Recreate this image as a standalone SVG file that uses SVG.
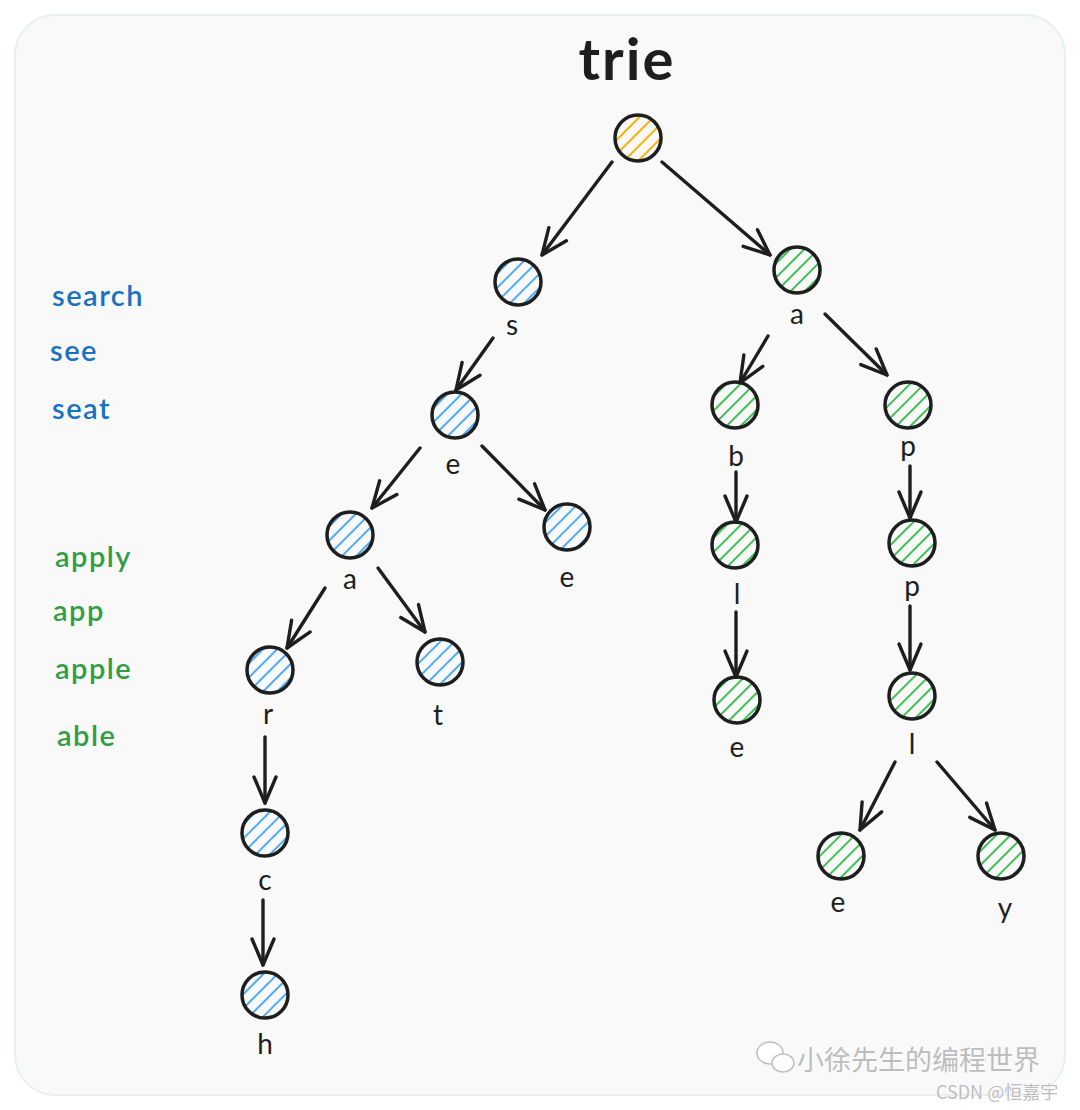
<svg xmlns="http://www.w3.org/2000/svg" width="1080" height="1110" viewBox="0 0 1080 1110">
<defs>
<style>
.node{stroke:#1e1e1e;stroke-width:3.5}
.lbl{font-family:"Lato","Noto Sans",sans-serif;font-size:28px;fill:#1e1e1e;text-anchor:middle}
.blue{font-family:"Lato","Noto Sans",sans-serif;font-size:29px;font-weight:600;letter-spacing:1.5px;fill:#1971c2}
.green{font-family:"Lato","Noto Sans",sans-serif;font-size:29px;font-weight:600;letter-spacing:1.5px;fill:#2f9e44}
.edge{stroke:#1e1e1e;stroke-width:3.4;fill:none;stroke-linecap:round;marker-end:url(#arr)}
.wm{font-family:"Noto Sans CJK SC","Liberation Sans",sans-serif;fill:#bdbdbd;stroke:#ffffff;stroke-width:0.6;paint-order:stroke}
</style>
<pattern id="hb" patternUnits="userSpaceOnUse" width="10" height="10" patternTransform="rotate(-45)"><line x1="0" y1="5" x2="10" y2="5" stroke="#4dabf7" stroke-width="2"/></pattern>
<pattern id="hg" patternUnits="userSpaceOnUse" width="10" height="10" patternTransform="rotate(-45)"><line x1="0" y1="5" x2="10" y2="5" stroke="#40c057" stroke-width="2"/></pattern>
<pattern id="hy" patternUnits="userSpaceOnUse" width="10" height="10" patternTransform="rotate(-45)"><line x1="0" y1="5" x2="10" y2="5" stroke="#fab005" stroke-width="2"/></pattern>
<marker id="arr" markerUnits="userSpaceOnUse" markerWidth="40" markerHeight="40" refX="0" refY="0" viewBox="-30 -20 40 40" orient="auto" overflow="visible">
<path d="M-26,-11 L0,0 L-26,11" fill="none" stroke="#1e1e1e" stroke-width="3.4" stroke-linecap="round" stroke-linejoin="round"/>
</marker>
</defs>
<rect x="0" y="0" width="1080" height="1110" fill="#ffffff"/>
<rect x="15" y="15" width="1050" height="1080" rx="40" fill="#f9f9f9" stroke="#e8f0ee" stroke-width="2"/>
<text x="627" y="80" font-family="Lato,'Noto Sans',sans-serif" font-size="58" font-weight="bold" letter-spacing="2" fill="#1e1e1e" text-anchor="middle">trie</text>

<g id="connectors">
<line class="edge" x1="612" y1="162" x2="542" y2="255"/>
<line class="edge" x1="662" y1="162" x2="770" y2="255"/>
<line class="edge" x1="493" y1="338" x2="456" y2="390"/>
<line class="edge" x1="768" y1="336" x2="740" y2="383"/>
<line class="edge" x1="825" y1="314" x2="887" y2="375"/>
<line class="edge" x1="420" y1="448" x2="372" y2="508"/>
<line class="edge" x1="482" y1="446" x2="545" y2="510"/>
<line class="edge" x1="736" y1="472" x2="736" y2="522"/>
<line class="edge" x1="910" y1="466" x2="910" y2="518"/>
<line class="edge" x1="325" y1="588" x2="287" y2="648"/>
<line class="edge" x1="378" y1="568" x2="425" y2="632"/>
<line class="edge" x1="736" y1="612" x2="736" y2="677"/>
<line class="edge" x1="910" y1="606" x2="910" y2="670"/>
<line class="edge" x1="895" y1="762" x2="860" y2="830"/>
<line class="edge" x1="937" y1="762" x2="995" y2="830"/>
<line class="edge" x1="265" y1="737" x2="265" y2="803"/>
<line class="edge" x1="263" y1="900" x2="263" y2="965"/>
</g>

<g id="root"><circle class="node" cx="638" cy="138" r="23" fill="url(#hy)"/></g>
<g id="n-s"><circle class="node" cx="518" cy="282" r="23" fill="url(#hb)"/><text class="lbl" x="512" y="335">s</text></g>
<g id="n-a"><circle class="node" cx="797" cy="270" r="23" fill="url(#hg)"/><text class="lbl" x="797" y="324">a</text></g>
<g id="n-se"><circle class="node" cx="455" cy="415" r="23" fill="url(#hb)"/><text class="lbl" x="453" y="474">e</text></g>
<g id="n-ab"><circle class="node" cx="735" cy="405" r="23" fill="url(#hg)"/><text class="lbl" x="736" y="466">b</text></g>
<g id="n-ap"><circle class="node" cx="908" cy="405" r="23" fill="url(#hg)"/><text class="lbl" x="908" y="456">p</text></g>
<g id="n-sea"><circle class="node" cx="350" cy="535" r="23" fill="url(#hb)"/><text class="lbl" x="350" y="589">a</text></g>
<g id="n-see"><circle class="node" cx="567" cy="527" r="23" fill="url(#hb)"/><text class="lbl" x="567" y="587">e</text></g>
<g id="n-abl"><circle class="node" cx="735" cy="545" r="23" fill="url(#hg)"/><text class="lbl" x="737" y="604">l</text></g>
<g id="n-app"><circle class="node" cx="912" cy="543" r="23" fill="url(#hg)"/><text class="lbl" x="912" y="596">p</text></g>
<g id="n-sear"><circle class="node" cx="270" cy="670" r="23" fill="url(#hb)"/><text class="lbl" x="268" y="724">r</text></g>
<g id="n-seat"><circle class="node" cx="440" cy="662" r="23" fill="url(#hb)"/><text class="lbl" x="438" y="725">t</text></g>
<g id="n-able"><circle class="node" cx="737" cy="700" r="23" fill="url(#hg)"/><text class="lbl" x="737" y="757">e</text></g>
<g id="n-appl"><circle class="node" cx="912" cy="696" r="23" fill="url(#hg)"/><text class="lbl" x="912" y="754">l</text></g>
<g id="n-searc"><circle class="node" cx="265" cy="833" r="23" fill="url(#hb)"/><text class="lbl" x="265" y="890">c</text></g>
<g id="n-apple"><circle class="node" cx="841" cy="856" r="23" fill="url(#hg)"/><text class="lbl" x="838" y="912">e</text></g>
<g id="n-apply"><circle class="node" cx="1001" cy="856" r="23" fill="url(#hg)"/><text class="lbl" x="1005" y="918">y</text></g>
<g id="n-search"><circle class="node" cx="265" cy="995" r="23" fill="url(#hb)"/><text class="lbl" x="265" y="1054">h</text></g>

<g id="words">
<text class="blue" x="52" y="306">search</text>
<text class="blue" x="50" y="361">see</text>
<text class="blue" x="52" y="419">seat</text>
<text class="green" x="55" y="567">apply</text>
<text class="green" x="53" y="621">app</text>
<text class="green" x="55" y="679">apple</text>
<text class="green" x="57" y="746">able</text>
</g>

<g id="watermark">
<g fill="#ffffff" stroke="#bdbdbd" stroke-width="1.5">
<ellipse cx="770" cy="1053" rx="13" ry="11"/>
<ellipse cx="783" cy="1063" rx="11" ry="9"/>
</g>
<text class="wm" x="797" y="1070" font-size="27">小徐先生的编程世界</text>
<text class="wm" x="936" y="1099" font-size="18">CSDN @恒嘉宇</text>
</g>
</svg>
